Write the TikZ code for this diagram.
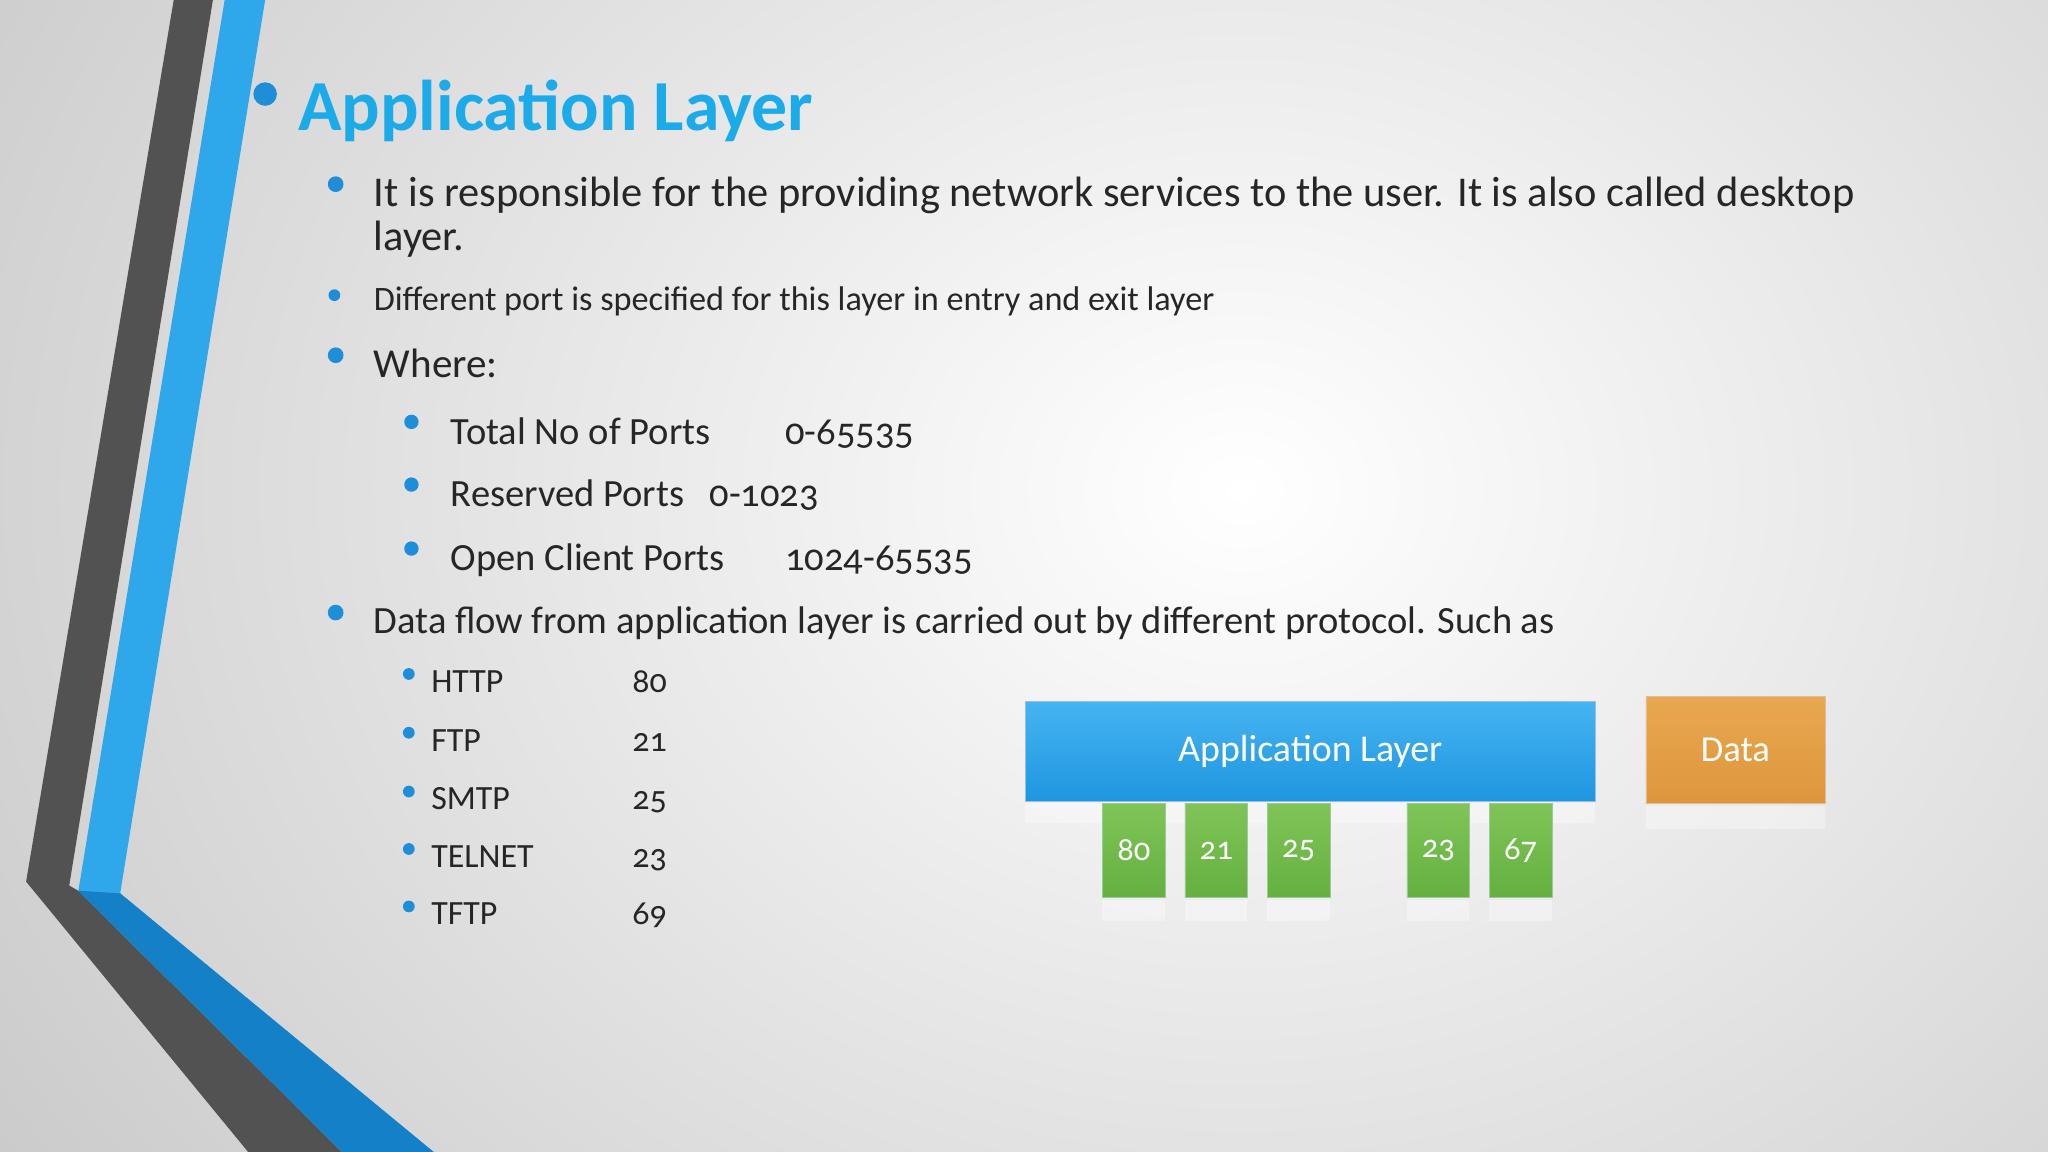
\documentclass[tikz,border=0pt]{standalone}
\usepackage{fontspec}
\setmainfont{Carlito}[Numbers=OldStyle]
\definecolor{tcyan}{HTML}{1AABE8}
\definecolor{sblue}{HTML}{2EA8EA}
\definecolor{dblue}{HTML}{1480C8}
\definecolor{bulc}{HTML}{1E8ED8}
\begin{document}
\begin{tikzpicture}[x=1pt,y=-1pt,
  t/.style={anchor=base west,inner sep=0pt,text=black!85},
  bul/.style={circle,fill=bulc,inner sep=0pt,minimum size=#1},
  gbox/.style={draw=green!50!black!40,top color={rgb,255:red,128;green,196;blue,88},bottom color={rgb,255:red,100;green,176;blue,64},text=white,font=\fontsize{25}{25}\selectfont,minimum width=48pt,minimum height=72pt,inner sep=0pt,anchor=north west},
  refl/.style={fill=white,opacity=0.35}]
\useasboundingbox (0,0) rectangle (1568,882);
\shade[inner color=white,outer color=gray!45] (-300,-650) rectangle (2200,1400);
% stripes
\fill[gray!30!black!80] (133,0)--(163,0)--(53,678)--(60,682)--(262,882)--(190,882)--(20,675)--cycle;
\fill[sblue] (172,0)--(203,0)--(92,684)--(332,882)--(262,882)--(60,682)--cycle;
\fill[dblue] (60,682)--(92,684)--(332,882)--(262,882)--cycle;
% title
\node[bul=18pt] (b0) at (203,72) {};
\node[t,text=tcyan,font=\fontsize{55}{55}\selectfont\bfseries] (title) at (228,100) {Application Layer};
\node[bul=12pt] (b1) at (257,141) {};
\node[t,font=\fontsize{32.5}{34}\selectfont] (p1) at (286,158) {It is responsible for the providing network services to the user. It is also called desktop};
\node[t,font=\fontsize{32.5}{34}\selectfont] (p1b) at (286,192) {layer.};
\node[bul=9pt] (b2) at (256,226) {};
\node[t,font=\fontsize{26.2}{25}\selectfont] (p2) at (286,238) {Different port is specified for this layer in entry and exit layer};
\node[bul=12pt] (b3) at (257,272) {};
\node[t,font=\fontsize{31.5}{31}\selectfont] (p3) at (286,289) {Where:};
\foreach \y/\a/\xb/\b in {340/Total No of Ports/601/0-65535,388/Reserved Ports/543/0-1023,437/Open Client Ports/601/1024-65535}{
  \node[bul=11pt] at (315,\y-17) {};
  \node[t,font=\fontsize{29.5}{29}\selectfont] at (345,\y) {\a};
  \node[t,font=\fontsize{29.5}{29}\selectfont] at (\xb,\y) {\b};
}
\node[bul=12pt] (b4) at (257,469) {};
\node[t,font=\fontsize{29.5}{29}\selectfont] (p4) at (286,485) {Data flow from application layer is carried out by different protocol. Such as};
\foreach \y/\a/\b in {530/HTTP/80,575/FTP/21,620/SMTP/25,664/TELNET/23,708/TFTP/69}{
  \node[bul=9pt] at (313,\y-14) {};
  \node[t,font=\fontsize{26}{25}\selectfont] at (330,\y) {\a};
  \node[t,font=\fontsize{26}{25}\selectfont] at (484,\y) {\b};
}
% diagram
\node[anchor=north west,draw=cyan!60!blue!40,top color={rgb,255:red,70;green,180;blue,240},bottom color={rgb,255:red,30;green,150;blue,225},text=white,font=\fontsize{29}{29}\selectfont,minimum width=436pt,minimum height=76pt,inner sep=0pt] (app) at (785,537) {Application Layer};
\fill[refl] (785,615) rectangle (1221,630);
\node[anchor=north west,draw=orange!70!black!40,top color={rgb,255:red,232;green,168;blue,80},bottom color={rgb,255:red,222;green,150;blue,60},text=white,font=\fontsize{28}{28}\selectfont,minimum width=137pt,minimum height=82pt,inner sep=0pt] (data) at (1260,533) {Data};
\fill[refl] (1260,617) rectangle (1397,635);
\foreach \x/\n in {844/80,907/21,970/25,1077/23,1140/67}{
  \node[gbox] (g\n) at (\x,615) {\n};
  \fill[refl] (\x,689) rectangle (\x+48,705);
}
\end{tikzpicture}
\end{document}
